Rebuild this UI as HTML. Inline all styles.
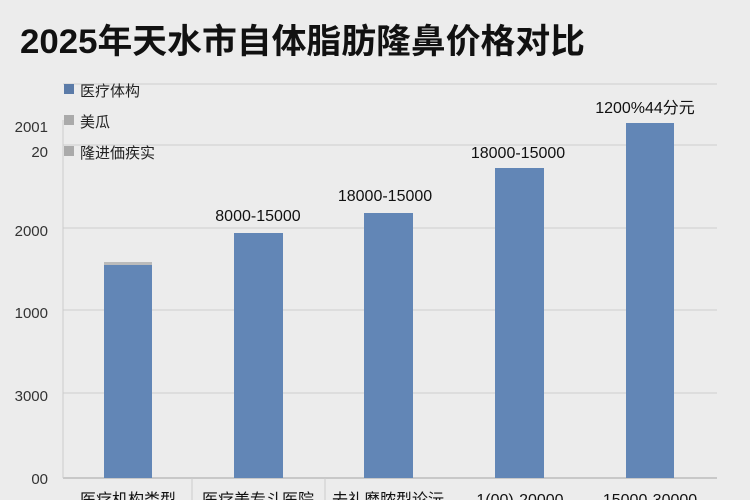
<html><head><style>
body{margin:0;width:750px;height:500px;background:#ebebeb;overflow:hidden;font-family:"Liberation Sans","Noto Sans CJK SC",sans-serif}
</style></head><body>
<svg width="750" height="500" xmlns="http://www.w3.org/2000/svg" font-family="Liberation Sans, Noto Sans CJK SC, sans-serif">
<rect width="750" height="500" fill="#ececec"/>
<text x="20" y="53" font-size="34" font-weight="bold" fill="#111" textLength="565" lengthAdjust="spacingAndGlyphs">2025年天水市自体脂肪隆鼻价格对比</text>
<g stroke="#d4d4d4" stroke-width="1.2">
<line x1="63" y1="84" x2="717" y2="84"/>
<line x1="63" y1="145" x2="717" y2="145"/>
<line x1="63" y1="228" x2="717" y2="228"/>
<line x1="63" y1="310" x2="717" y2="310"/>
<line x1="63" y1="393" x2="717" y2="393"/>
</g>
<line x1="63" y1="478" x2="717" y2="478" stroke="#bbb" stroke-width="1.5"/>
<line x1="63" y1="120" x2="63" y2="478" stroke="#ccc"/>
<line x1="192" y1="478" x2="192" y2="500" stroke="#ccc"/>
<line x1="325" y1="478" x2="325" y2="500" stroke="#ccc"/>
<g font-size="15" fill="#333" text-anchor="end">
<text x="48" y="132">2001</text><text x="48" y="157">20</text>
<text x="48" y="236">2000</text><text x="48" y="318">1000</text>
<text x="48" y="401">3000</text><text x="48" y="484">00</text>
</g>
<rect x="64" y="84" width="10" height="10" fill="#5b7ba8"/>
<rect x="64" y="115" width="10" height="10" fill="#aaa"/>
<rect x="64" y="146" width="10" height="10" fill="#aaa"/>
<g font-size="15" fill="#222"><text x="80" y="96">医疗体构</text><text x="80" y="127">美瓜</text><text x="80" y="158">隆进価疾实</text></g>
<g fill="#6286b6">
<rect x="104" y="265" width="48" height="213"/>
<rect x="234" y="233" width="49" height="245"/>
<rect x="364" y="213" width="49" height="265"/>
<rect x="495" y="168" width="49" height="310"/>
<rect x="626" y="123" width="48" height="355"/>
</g>
<rect x="104" y="262" width="48" height="3" fill="#bbb"/>
<g font-size="16" fill="#111" text-anchor="middle">
<text x="258" y="221">8000-15000</text>
<text x="385" y="201">18000-15000</text>
<text x="518" y="158">18000-15000</text>
<text x="645" y="113">1200%44分元</text>
</g>
<g font-size="16" fill="#111" text-anchor="middle">
<text x="128" y="505">医疗机构类型</text><text x="258" y="505">医疗美专斗医院</text>
<text x="388" y="505">去礼麼脓型论沅</text><text x="520" y="505">1(00)-20000</text>
<text x="650" y="505">15000-30000</text>
</g>
</svg>
</body></html>
